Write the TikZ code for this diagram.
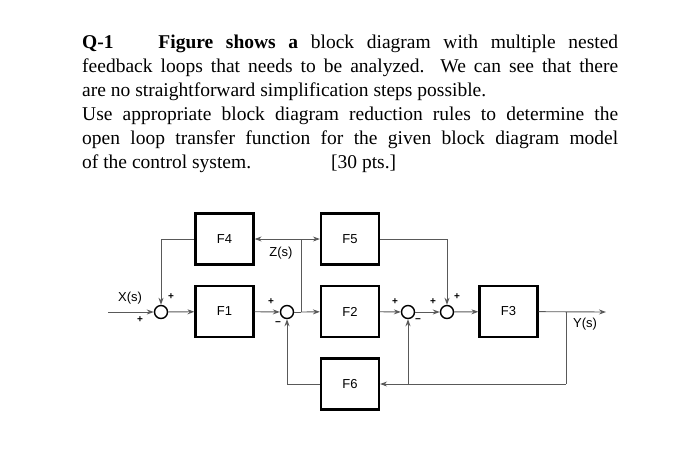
\documentclass[tikz,border=0pt]{standalone}
\usepackage{fontspec}
\setmainfont{Liberation Serif}
\newfontfamily\diagfont{Liberation Sans}
\usetikzlibrary{arrows.meta}
\begin{document}
\begin{tikzpicture}[x=1pt,y=-1pt,
  blk/.style={draw=black,line width=2.2pt,minimum width=58pt,minimum height=51pt,inner sep=0pt,font=\diagfont\fontsize{13}{13}\selectfont},
  sum/.style={circle,draw=black,line width=1.4pt,minimum size=13pt,inner sep=0pt},
  ln/.style={draw=black!65,line width=0.9pt},
  ar/.style={ln,-{Stealth[length=7pt,width=5pt]}},
  sg/.style={font=\diagfont\bfseries\fontsize{10}{10}\selectfont,inner sep=0pt},
  lb/.style={font=\diagfont\fontsize{13}{13}\selectfont,inner sep=0pt}]
\useasboundingbox (0,0) rectangle (700,448);
\node[anchor=north west,inner sep=0pt,text width=536pt,align=justify,font=\fontsize{19.5}{24}\selectfont] (txt) at (82,35)
{\textbf{Q-1\quad\ \ Figure shows a} block diagram with multiple nested\linebreak
feedback loops that needs to be analyzed. We can see that there\linebreak
are no straightforward simplification steps possible.\par
Use appropriate block diagram reduction rules to determine the\linebreak
open loop transfer function for the given block diagram model\linebreak
of the control system.\hspace{80pt}[30 pts.]};
% blocks
\node[blk] (F4) at (224.5,239) {F4};
\node[blk] (F1) at (224.5,311.5) {F1};
\node[blk] (F5) at (350,239) {F5};
\node[blk] (F2) at (350,311.5) {F2};
\node[blk] (F6) at (350,384) {F6};
\node[blk] (F3) at (508.5,311.5) {F3};
% summers
\node[sum] (S1) at (161,312) {};
\node[sum] (S2) at (287,312) {};
\node[sum] (S3) at (408,312) {};
\node[sum] (S4) at (447,312) {};
% coordinates
\coordinate (in) at (108,312);
\coordinate (z) at (301,312);
\coordinate (zt) at (301,239);
\coordinate (y) at (566,312);
\coordinate (yb) at (566,384);
\coordinate (out) at (606,312);
\coordinate (s3b) at (408,384);
\coordinate (s2b) at (287,384);
% connectors
\draw[ar] (in) -- (S1);
\draw[ar] (S1) -- (F1);
\draw[ar] (F1) -- (S2);
\draw[ln] (S2) -- (z);
\draw[ar] (z) -- (F2);
\draw[ln] (z) -- (zt);
\draw[ar] (zt) -- (F4);
\draw[ar] (zt) -- (F5);
\draw[ar] (F4.west) -| (S1);
\draw[ar] (F5.east) -| (S4);
\draw[ar] (F2) -- (S3);
\draw[ar] (S3) -- (S4);
\draw[ar] (S4) -- (F3);
\draw[ar] (F3) -- (out);
\draw[ln] (y) -- (yb);
\draw[ar] (yb) -- (F6);
\draw[ar] (s3b) -- (S3);
\draw[ar] (F6.west) -| (S2);
% labels
\node[lb] at (130,298) {X(s)};
\node[lb] at (281,253) {Z(s)};
\node[lb] at (585,324) {Y(s)};
\node[sg] at (140,320) {+};
\node[sg] at (171,297) {+};
\node[sg] at (271,302) {+};
\node[sg] at (278,324) {\textminus};
\node[sg] at (395,302) {+};
\node[sg] at (418,321) {\textminus};
\node[sg] at (433,302) {+};
\node[sg] at (457,297) {+};
\end{tikzpicture}
\end{document}
